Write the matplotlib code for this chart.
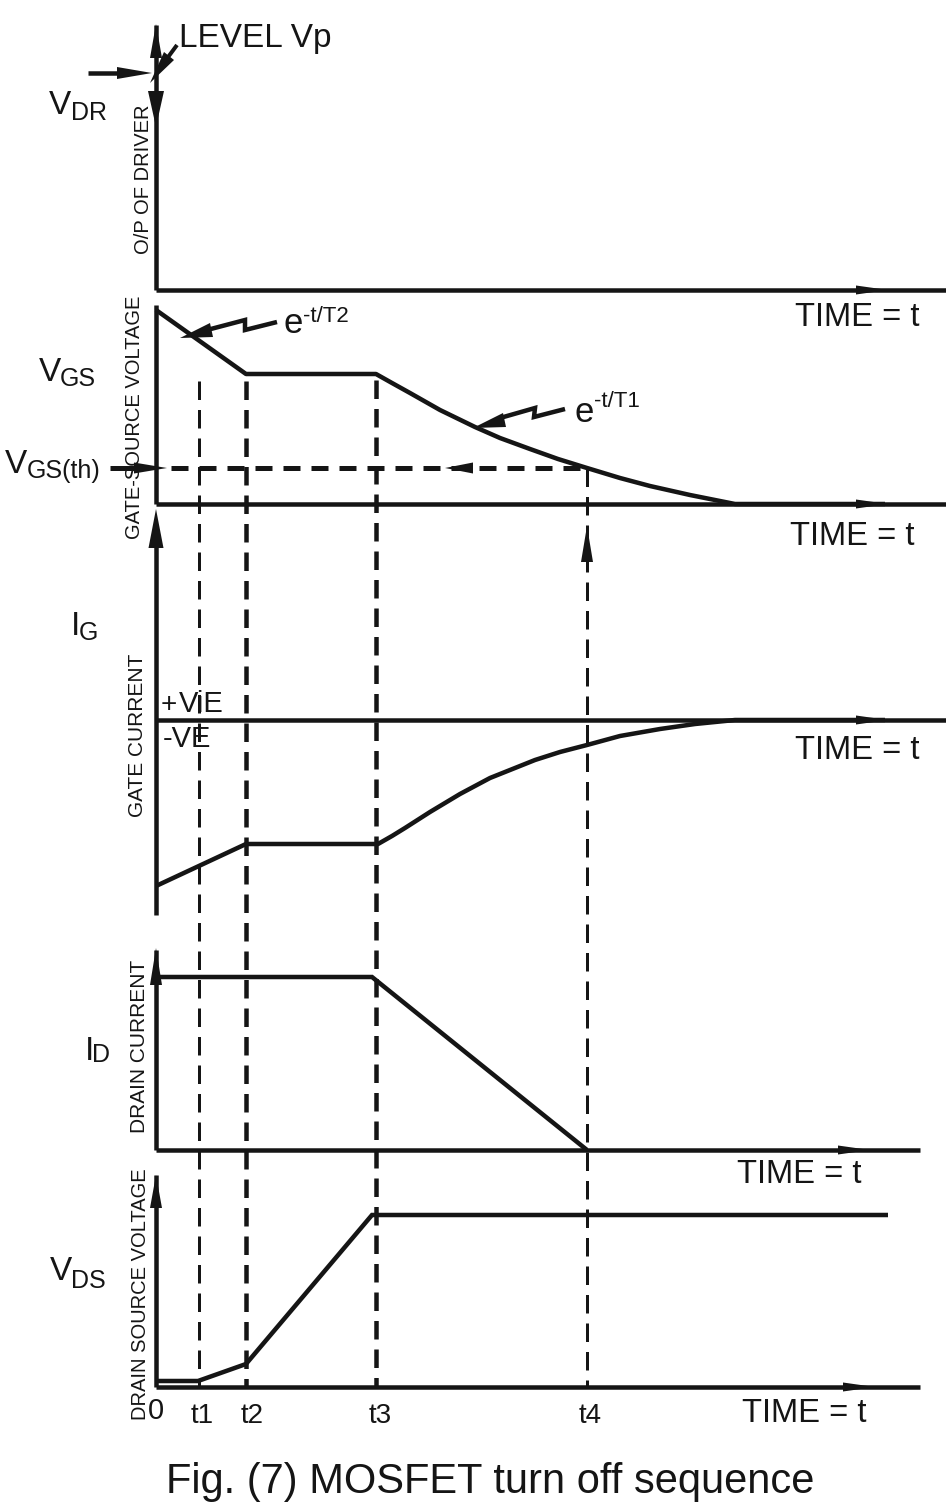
#! /usr/bin/env python

import matplotlib
matplotlib.use("Agg")
import matplotlib.pyplot as plt

W = 946
H = 1502
INK = "#151515"
FONT = ["Liberation Sans", "DejaVu Sans"]

# switching instants on the time axis
t_x = [199, 246, 376, 587]
t_names = ["t1", "t2", "t3", "t4"]
t_label_x = [202, 252, 380, 590]
dash_top = [381, 381, 380, 468]
dash_width = [3, 4.5, 4.5, 3]

# waveforms
vgs_x = [156, 246, 376, 392, 410, 440, 475, 500, 530, 558, 587, 620, 650, 690, 735, 885]
vgs_y = [310, 374, 374, 383, 393, 410, 427, 438, 449, 459, 468, 478, 486, 495, 504, 504]
ig_x = [156, 246, 378, 392, 405, 430, 460, 490, 535, 560, 587, 620, 660, 695, 735, 885]
ig_y = [886, 844, 844, 836, 828, 812, 794, 778, 760, 752, 745, 736, 729, 724, 720, 720]
id_x = [156, 372, 587]
id_y = [977, 977, 1150]
vds_x = [156, 198, 246, 372, 888]
vds_y = [1381, 1381, 1364, 1215, 1215]

# rails
h_axis_y = [290, 504, 720, 1150, 1387]
h_axis_end = [946, 946, 946, 920, 920]
h_arrow_tip = [888, 888, 888, 870, 875]
v_axis_top = [25, 305, 525, 950, 1175]
v_axis_end = [290, 504, 915, 1150, 1387]

time_label_x = [919, 914, 919, 861, 866]
time_label_y = [326, 545, 759, 1183, 1422]

side_labels = ["O/P OF DRIVER", "GATE-SOURCE VOLTAGE", "GATE CURRENT", "DRAIN CURRENT", "DRAIN SOURCE VOLTAGE"]
side_x = [143, 134, 137, 139, 140]
side_y = [179, 417, 735, 1046, 1294]
side_size = [14.5, 14.5, 15, 15, 14.5]

fig = plt.figure(figsize=(W / 100, H / 100), dpi=100)
ax = fig.add_axes([0, 0, 1, 1])
ax.set_xlim(0, W)
ax.set_ylim(H, 0)
ax.axis("off")


def lw(px):
    return px * 72 / 100


def line(xs, ys, width=4, join="round"):
    ax.plot(xs, ys, color=INK, lw=lw(width), solid_capstyle="butt", solid_joinstyle=join)


def dashed(xs, ys, width, on=18.5, off=10):
    ax.plot(xs, ys, color=INK, lw=lw(width), dashes=(on / width, off / width), dash_capstyle="butt")


def poly(xs, ys):
    ax.fill(xs, ys, color=INK, lw=0, zorder=4)


def up_down_head(x, tip, base, half):
    poly([x, x - half, x + half], [tip, base, base])


def side_head(tip, base, y, half):
    poly([tip, base, base], [y, y - half, y + half])


def label(x, y, s, size, ha="left"):
    ax.text(x, y, s, fontsize=size, family=FONT, color=INK, ha=ha, va="baseline")


# axes
for y0, x1, tip in zip(h_axis_y, h_axis_end, h_arrow_tip):
    line([156, x1], [y0, y0], 4.5, "miter")
    side_head(tip, tip - 32, y0, 4.5)
for y0, y1 in zip(v_axis_top, v_axis_end):
    line([156, 156], [y0, y1], 4.5, "miter")

# axis heads
up_down_head(156, 24, 58, 6)
up_down_head(156, 127, 91, 8)
up_down_head(156, 509, 548, 7.5)
up_down_head(156, 948, 985, 6)
up_down_head(156, 1175, 1208, 6)

# level arrow at the driver
line([88, 120], [73, 73], 4.5)
side_head(152, 117, 73, 6)
line([177, 160], [45, 68], 4)
poly([150, 164, 174], [83, 52, 60])

# switching instants
for x, top, w in zip(t_x, dash_top, dash_width):
    dashed([x, x], [top, 1387], w)

# threshold line
line([110, 140], [468, 468], 5)
side_head(167, 134, 468, 5.5)
dashed([171, 587], [468, 468], 5, 17, 11)
side_head(445, 473, 468, 5.5)

# up arrow on t4
up_down_head(587, 526, 562, 6)

# waveforms
line(vgs_x, vgs_y, 4.5)
line(ig_x, ig_y, 4.5)
line(id_x, id_y, 4.5, "miter")
line(vds_x, vds_y, 4.5, "miter")

# the lightning leaders
line([277, 245, 245, 207], [322, 330, 320, 330], 4.5, "miter")
poly([180, 210, 213], [338, 323, 337])
line([565, 534, 535, 500], [409, 417, 408, 418], 4.5, "miter")
poly([473, 503, 506], [428, 413, 427])

# texts
label(179, 47, "LEVEL Vp", 24)
label(49, 114, "V", 24)
label(71, 120, "DR", 18)
label(39, 381, "V", 24)
label(60, 386, "GS", 18)
label(5, 473, "V", 24)
label(27, 478, "GS(th)", 18)
label(71, 635, "I", 24)
label(79, 640, "G", 18)
label(85, 1060, "I", 24)
label(92, 1062, "D", 18)
label(50, 1280, "V", 24)
label(71, 1288, "DS", 18)

label(283, 333, "e", 25)
label(303, 322, "-t/T2", 16)
label(574, 422, "e", 25)
label(594, 407, "-t/T1", 16)

label(161, 712, "+", 20)
label(179, 712, "ViE", 21)
label(163, 747, "-VE", 21)

for name, x in zip(t_names, t_label_x):
    label(x, 1423, name, 20, ha="center")
label(156, 1419, "0", 21, ha="center")

for x, y in zip(time_label_x, time_label_y):
    label(x, y, "TIME = t", 23.6, ha="right")

for s, x, y, size in zip(side_labels, side_x, side_y, side_size):
    ax.text(x, y, s, fontsize=size, family=FONT, color=INK, rotation=90, ha="center", va="center")

label(490, 1493, "Fig. (7) MOSFET turn off sequence", 30, ha="center")

fig.savefig("out.png", dpi=100, facecolor="white")
